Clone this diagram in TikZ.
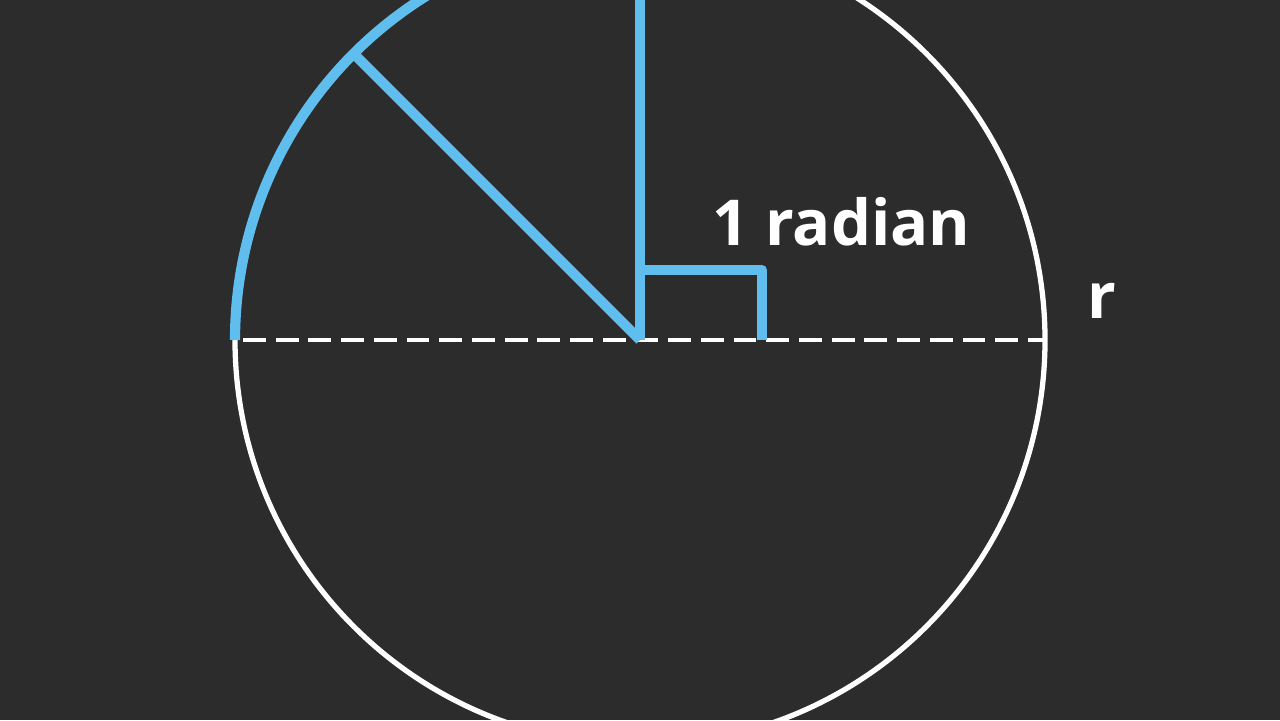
\documentclass[tikz,border=0pt]{standalone}
\usepackage{fontspec}
\setmainfont{Open Sans}
\usetikzlibrary{calc}
\definecolor{bg}{RGB}{44,44,44}
\definecolor{skyblue}{RGB}{96,190,238}
\begin{document}
\begin{tikzpicture}[x=0.01cm,y=0.01cm,
  whiteline/.style={draw=white,line width=1.5pt},
  blueline/.style={draw=skyblue,line width=2.9pt,line join=round},
  dashline/.style={draw=white,line width=1.4pt,dash pattern=on 6.5pt off 2.8pt},
  lbl/.style={text=white,inner sep=0,anchor=base west,font=\fontsize{18}{21}\selectfont\bfseries}]
\useasboundingbox (0,0) rectangle (1280,720);
\fill[bg] (0,0) rectangle (1280,720);
\clip (0,0) rectangle (1280,720);
\coordinate (O) at (640,380);
\coordinate (L) at ($(O)+(180:405)$);
\coordinate (R) at ($(O)+(0:405)$);
\coordinate (D) at ($(O)+(135:401)$);
\coordinate (T) at (640,740);
\coordinate (S1) at (644,450);
\coordinate (S2) at (762,450);
\coordinate (S3) at (762,380);
% circle
\draw[whiteline] (O) circle (405);
% blue arc
\draw[blueline] (L) arc[start angle=180,end angle=118,radius=405];
% dashed diameter
\draw[dashline] ($(L)+(8,0)$) -- (R);
% radii
\draw[blueline] (O) -- (D);
\draw[blueline] (O) -- (T);
% right-angle mark
\draw[blueline] (S1) -- (S2) -- (S3);
% labels
\node[lbl] (rad) at (712,475) {1 radian};
\node[lbl] (r) at (1087,402) {r};
\end{tikzpicture}
\end{document}
